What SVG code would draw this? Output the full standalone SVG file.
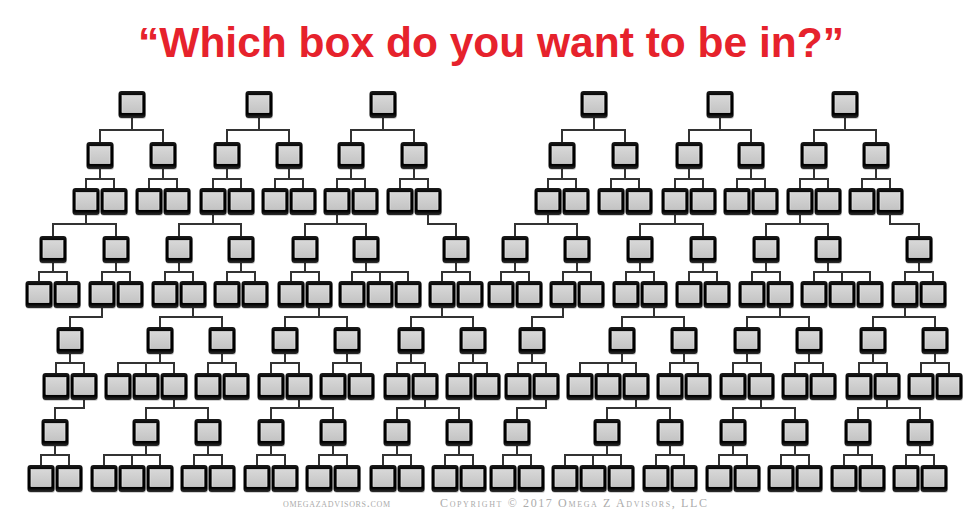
<svg xmlns="http://www.w3.org/2000/svg" xmlns:xlink="http://www.w3.org/1999/xlink" width="978" height="511" viewBox="0 0 978 511">
<style>
.t{font-family:"Liberation Sans",Arial,sans-serif;font-weight:bold;font-size:42.5px;fill:#e6222c}
.f{font-family:"Liberation Serif","Times New Roman",serif;font-size:12px;font-variant:small-caps;fill:#ababab;letter-spacing:1px}
.c path{fill:none;stroke:#333;stroke-width:2;stroke-linejoin:miter}
</style>
<defs>
<linearGradient id="fr" x1="0" y1="0" x2="0" y2="1">
<stop offset="0" stop-color="#1c1c1c"/><stop offset="0.2" stop-color="#000"/><stop offset="0.85" stop-color="#000"/><stop offset="1" stop-color="#2e2e2e"/>
</linearGradient>
<linearGradient id="in" x1="0" y1="0" x2="0" y2="1">
<stop offset="0" stop-color="#d8d8d8"/><stop offset="1" stop-color="#c4c4c4"/>
</linearGradient>
<g id="bx">
<rect x="0.5" y="1" width="27" height="27" rx="3" fill="#000" opacity="0.18"/>
<rect x="0" y="0" width="27" height="27" rx="3" fill="url(#fr)"/>
<rect x="3.5" y="4.5" width="20" height="17" fill="url(#in)" stroke="#e6e6e6" stroke-width="0.7"/>
</g>
</defs>
<rect width="978" height="511" fill="#fff"/>
<text class="t" x="491" y="57" text-anchor="middle">“Which box do you want to be in?”</text>

<g id="connectors" class="c">
<path d="M132 118V130M100 142V130H163V142M259 118V130M227 142V130H289V142M383 118V130M351 142V130H414V142M594 118V130M562 142V130H625V142M720 118V130M689 142V130H751V142M845 118V130M814 142V130H876V142"/>
<path d="M100 169V179M86 188V179H114V188M163 169V179M149 188V179H177V188M227 169V179M213 188V179H241V188M289 169V179M275 188V179H303V188M351 169V179M337 188V179H365V188M414 169V179M400 188V179H428V188M562 169V179M548 188V179H576V188M625 169V179M611 188V179H639V188M689 169V179M675 188V179H703V188M751 169V179M737 188V179H765V188M814 169V179M800 188V179H828V188M876 169V179M862 188V179H890V188"/>
<path d="M86 215V224M53 236V224H116V236M213 215V224M179 236V224H241V236M337 215V224M305 236V224H366V236M428 215V224H456V236M548 215V224M515 236V224H577V236M675 215V224M640 236V224H703V236M800 215V224M766 236V224H828V236M890 215V224H919V236"/>
<path d="M53 263V272M39 281V272H67V281M116 263V272M102 281V272H130V281M179 263V272M165 281V272H193V281M241 263V272M227 281V272H255V281M305 263V272M291 281V272H319V281M366 263V272M352 281V272H408V281M380 272V281M456 263V272M442 281V272H470V281M515 263V272M501 281V272H529V281M577 263V272M563 281V272H591V281M640 263V272M626 281V272H654V281M703 263V272M689 281V272H717V281M766 263V272M752 281V272H780V281M828 263V272M814 281V272H870V281M842 272V281M919 263V272M905 281V272H933V281"/>
<path d="M102 308V317H70V327M193 308V317M160 327V317H222V327M319 308V317M285 327V317H347V327M442 308V317M411 327V317H473V327M563 308V317H532V327M654 308V317M622 327V317H684V327M780 308V317M747 327V317H809V327M905 308V317M873 327V317H935V327"/>
<path d="M70 354V363M56 373V363H84V373M160 354V363M118 373V363H174V373M146 363V373M222 354V363M208 373V363H236V373M285 354V363M271 373V363H299V373M347 354V363M333 373V363H361V373M411 354V363M397 373V363H425V373M473 354V363M459 373V363H487V373M532 354V363M518 373V363H546V373M622 354V363M580 373V363H636V373M608 363V373M684 354V363M670 373V363H698V373M747 354V363M733 373V363H761V373M809 354V363M795 373V363H823V373M873 354V363M859 373V363H887V373M935 354V363M921 373V363H949V373"/>
<path d="M84 400V408H55V419M174 400V408M146 419V408H208V419M299 400V408M271 419V408H333V419M425 400V408M397 419V408H459V419M546 400V408H517V419M636 400V408M607 419V408H670V419M761 400V408M733 419V408H795V419M887 400V408M858 419V408H920V419"/>
<path d="M55 446V455M41 465V455H69V465M146 446V455M104 465V455H160V465M132 455V465M208 446V455M194 465V455H222V465M271 446V455M257 465V455H285V465M333 446V455M319 465V455H347V465M397 446V455M383 465V455H411V465M459 446V455M445 465V455H473V465M517 446V455M503 465V455H531V465M607 446V455M565 465V455H621V465M593 455V465M670 446V455M656 465V455H684V465M733 446V455M719 465V455H747V465M795 446V455M781 465V455H809V465M858 446V455M844 465V455H872V465M920 446V455M906 465V455H934V465"/>
</g>

<g id="nodes">
<g id="r1-1"><use href="#bx" x="118.5" y="91"/></g>
<g id="r1-2"><use href="#bx" x="245.5" y="91"/></g>
<g id="r1-3"><use href="#bx" x="369.5" y="91"/></g>
<g id="r1-4"><use href="#bx" x="580.5" y="91"/></g>
<g id="r1-5"><use href="#bx" x="706.5" y="91"/></g>
<g id="r1-6"><use href="#bx" x="831.5" y="91"/></g>

<g id="r2-1"><use href="#bx" x="86.5" y="142"/></g>
<g id="r2-2"><use href="#bx" x="149.5" y="142"/></g>
<g id="r2-3"><use href="#bx" x="213.5" y="142"/></g>
<g id="r2-4"><use href="#bx" x="275.5" y="142"/></g>
<g id="r2-5"><use href="#bx" x="337.5" y="142"/></g>
<g id="r2-6"><use href="#bx" x="400.5" y="142"/></g>
<g id="r2-7"><use href="#bx" x="548.5" y="142"/></g>
<g id="r2-8"><use href="#bx" x="611.5" y="142"/></g>
<g id="r2-9"><use href="#bx" x="675.5" y="142"/></g>
<g id="r2-10"><use href="#bx" x="737.5" y="142"/></g>
<g id="r2-11"><use href="#bx" x="800.5" y="142"/></g>
<g id="r2-12"><use href="#bx" x="862.5" y="142"/></g>

<g id="r3-1"><use href="#bx" x="72.5" y="188"/></g>
<g id="r3-2"><use href="#bx" x="100.5" y="188"/></g>
<g id="r3-3"><use href="#bx" x="135.5" y="188"/></g>
<g id="r3-4"><use href="#bx" x="163.5" y="188"/></g>
<g id="r3-5"><use href="#bx" x="199.5" y="188"/></g>
<g id="r3-6"><use href="#bx" x="227.5" y="188"/></g>
<g id="r3-7"><use href="#bx" x="261.5" y="188"/></g>
<g id="r3-8"><use href="#bx" x="289.5" y="188"/></g>
<g id="r3-9"><use href="#bx" x="323.5" y="188"/></g>
<g id="r3-10"><use href="#bx" x="351.5" y="188"/></g>
<g id="r3-11"><use href="#bx" x="386.5" y="188"/></g>
<g id="r3-12"><use href="#bx" x="414.5" y="188"/></g>
<g id="r3-13"><use href="#bx" x="534.5" y="188"/></g>
<g id="r3-14"><use href="#bx" x="562.5" y="188"/></g>
<g id="r3-15"><use href="#bx" x="597.5" y="188"/></g>
<g id="r3-16"><use href="#bx" x="625.5" y="188"/></g>
<g id="r3-17"><use href="#bx" x="661.5" y="188"/></g>
<g id="r3-18"><use href="#bx" x="689.5" y="188"/></g>
<g id="r3-19"><use href="#bx" x="723.5" y="188"/></g>
<g id="r3-20"><use href="#bx" x="751.5" y="188"/></g>
<g id="r3-21"><use href="#bx" x="786.5" y="188"/></g>
<g id="r3-22"><use href="#bx" x="814.5" y="188"/></g>
<g id="r3-23"><use href="#bx" x="848.5" y="188"/></g>
<g id="r3-24"><use href="#bx" x="876.5" y="188"/></g>

<g id="r4-1"><use href="#bx" x="39.5" y="236"/></g>
<g id="r4-2"><use href="#bx" x="102.5" y="236"/></g>
<g id="r4-3"><use href="#bx" x="165.5" y="236"/></g>
<g id="r4-4"><use href="#bx" x="227.5" y="236"/></g>
<g id="r4-5"><use href="#bx" x="291.5" y="236"/></g>
<g id="r4-6"><use href="#bx" x="352.5" y="236"/></g>
<g id="r4-7"><use href="#bx" x="442.5" y="236"/></g>
<g id="r4-8"><use href="#bx" x="501.5" y="236"/></g>
<g id="r4-9"><use href="#bx" x="563.5" y="236"/></g>
<g id="r4-10"><use href="#bx" x="626.5" y="236"/></g>
<g id="r4-11"><use href="#bx" x="689.5" y="236"/></g>
<g id="r4-12"><use href="#bx" x="752.5" y="236"/></g>
<g id="r4-13"><use href="#bx" x="814.5" y="236"/></g>
<g id="r4-14"><use href="#bx" x="905.5" y="236"/></g>

<g id="r5-1"><use href="#bx" x="25.5" y="281"/></g>
<g id="r5-2"><use href="#bx" x="53.5" y="281"/></g>
<g id="r5-3"><use href="#bx" x="88.5" y="281"/></g>
<g id="r5-4"><use href="#bx" x="116.5" y="281"/></g>
<g id="r5-5"><use href="#bx" x="151.5" y="281"/></g>
<g id="r5-6"><use href="#bx" x="179.5" y="281"/></g>
<g id="r5-7"><use href="#bx" x="213.5" y="281"/></g>
<g id="r5-8"><use href="#bx" x="241.5" y="281"/></g>
<g id="r5-9"><use href="#bx" x="277.5" y="281"/></g>
<g id="r5-10"><use href="#bx" x="305.5" y="281"/></g>
<g id="r5-11"><use href="#bx" x="338.5" y="281"/></g>
<g id="r5-12"><use href="#bx" x="366.5" y="281"/></g>
<g id="r5-13"><use href="#bx" x="394.5" y="281"/></g>
<g id="r5-14"><use href="#bx" x="428.5" y="281"/></g>
<g id="r5-15"><use href="#bx" x="456.5" y="281"/></g>
<g id="r5-16"><use href="#bx" x="487.5" y="281"/></g>
<g id="r5-17"><use href="#bx" x="515.5" y="281"/></g>
<g id="r5-18"><use href="#bx" x="549.5" y="281"/></g>
<g id="r5-19"><use href="#bx" x="577.5" y="281"/></g>
<g id="r5-20"><use href="#bx" x="612.5" y="281"/></g>
<g id="r5-21"><use href="#bx" x="640.5" y="281"/></g>
<g id="r5-22"><use href="#bx" x="675.5" y="281"/></g>
<g id="r5-23"><use href="#bx" x="703.5" y="281"/></g>
<g id="r5-24"><use href="#bx" x="738.5" y="281"/></g>
<g id="r5-25"><use href="#bx" x="766.5" y="281"/></g>
<g id="r5-26"><use href="#bx" x="800.5" y="281"/></g>
<g id="r5-27"><use href="#bx" x="828.5" y="281"/></g>
<g id="r5-28"><use href="#bx" x="856.5" y="281"/></g>
<g id="r5-29"><use href="#bx" x="891.5" y="281"/></g>
<g id="r5-30"><use href="#bx" x="919.5" y="281"/></g>

<g id="r6-1"><use href="#bx" x="56.5" y="327"/></g>
<g id="r6-2"><use href="#bx" x="146.5" y="327"/></g>
<g id="r6-3"><use href="#bx" x="208.5" y="327"/></g>
<g id="r6-4"><use href="#bx" x="271.5" y="327"/></g>
<g id="r6-5"><use href="#bx" x="333.5" y="327"/></g>
<g id="r6-6"><use href="#bx" x="397.5" y="327"/></g>
<g id="r6-7"><use href="#bx" x="459.5" y="327"/></g>
<g id="r6-8"><use href="#bx" x="518.5" y="327"/></g>
<g id="r6-9"><use href="#bx" x="608.5" y="327"/></g>
<g id="r6-10"><use href="#bx" x="670.5" y="327"/></g>
<g id="r6-11"><use href="#bx" x="733.5" y="327"/></g>
<g id="r6-12"><use href="#bx" x="795.5" y="327"/></g>
<g id="r6-13"><use href="#bx" x="859.5" y="327"/></g>
<g id="r6-14"><use href="#bx" x="921.5" y="327"/></g>

<g id="r7-1"><use href="#bx" x="42.5" y="373"/></g>
<g id="r7-2"><use href="#bx" x="70.5" y="373"/></g>
<g id="r7-3"><use href="#bx" x="104.5" y="373"/></g>
<g id="r7-4"><use href="#bx" x="132.5" y="373"/></g>
<g id="r7-5"><use href="#bx" x="160.5" y="373"/></g>
<g id="r7-6"><use href="#bx" x="194.5" y="373"/></g>
<g id="r7-7"><use href="#bx" x="222.5" y="373"/></g>
<g id="r7-8"><use href="#bx" x="257.5" y="373"/></g>
<g id="r7-9"><use href="#bx" x="285.5" y="373"/></g>
<g id="r7-10"><use href="#bx" x="319.5" y="373"/></g>
<g id="r7-11"><use href="#bx" x="347.5" y="373"/></g>
<g id="r7-12"><use href="#bx" x="383.5" y="373"/></g>
<g id="r7-13"><use href="#bx" x="411.5" y="373"/></g>
<g id="r7-14"><use href="#bx" x="445.5" y="373"/></g>
<g id="r7-15"><use href="#bx" x="473.5" y="373"/></g>
<g id="r7-16"><use href="#bx" x="504.5" y="373"/></g>
<g id="r7-17"><use href="#bx" x="532.5" y="373"/></g>
<g id="r7-18"><use href="#bx" x="566.5" y="373"/></g>
<g id="r7-19"><use href="#bx" x="594.5" y="373"/></g>
<g id="r7-20"><use href="#bx" x="622.5" y="373"/></g>
<g id="r7-21"><use href="#bx" x="656.5" y="373"/></g>
<g id="r7-22"><use href="#bx" x="684.5" y="373"/></g>
<g id="r7-23"><use href="#bx" x="719.5" y="373"/></g>
<g id="r7-24"><use href="#bx" x="747.5" y="373"/></g>
<g id="r7-25"><use href="#bx" x="781.5" y="373"/></g>
<g id="r7-26"><use href="#bx" x="809.5" y="373"/></g>
<g id="r7-27"><use href="#bx" x="845.5" y="373"/></g>
<g id="r7-28"><use href="#bx" x="873.5" y="373"/></g>
<g id="r7-29"><use href="#bx" x="907.5" y="373"/></g>
<g id="r7-30"><use href="#bx" x="935.5" y="373"/></g>

<g id="r8-1"><use href="#bx" x="41.5" y="419"/></g>
<g id="r8-2"><use href="#bx" x="132.5" y="419"/></g>
<g id="r8-3"><use href="#bx" x="194.5" y="419"/></g>
<g id="r8-4"><use href="#bx" x="257.5" y="419"/></g>
<g id="r8-5"><use href="#bx" x="319.5" y="419"/></g>
<g id="r8-6"><use href="#bx" x="383.5" y="419"/></g>
<g id="r8-7"><use href="#bx" x="445.5" y="419"/></g>
<g id="r8-8"><use href="#bx" x="503.5" y="419"/></g>
<g id="r8-9"><use href="#bx" x="593.5" y="419"/></g>
<g id="r8-10"><use href="#bx" x="656.5" y="419"/></g>
<g id="r8-11"><use href="#bx" x="719.5" y="419"/></g>
<g id="r8-12"><use href="#bx" x="781.5" y="419"/></g>
<g id="r8-13"><use href="#bx" x="844.5" y="419"/></g>
<g id="r8-14"><use href="#bx" x="906.5" y="419"/></g>

<g id="r9-1"><use href="#bx" x="27.5" y="465"/></g>
<g id="r9-2"><use href="#bx" x="55.5" y="465"/></g>
<g id="r9-3"><use href="#bx" x="90.5" y="465"/></g>
<g id="r9-4"><use href="#bx" x="118.5" y="465"/></g>
<g id="r9-5"><use href="#bx" x="146.5" y="465"/></g>
<g id="r9-6"><use href="#bx" x="180.5" y="465"/></g>
<g id="r9-7"><use href="#bx" x="208.5" y="465"/></g>
<g id="r9-8"><use href="#bx" x="243.5" y="465"/></g>
<g id="r9-9"><use href="#bx" x="271.5" y="465"/></g>
<g id="r9-10"><use href="#bx" x="305.5" y="465"/></g>
<g id="r9-11"><use href="#bx" x="333.5" y="465"/></g>
<g id="r9-12"><use href="#bx" x="369.5" y="465"/></g>
<g id="r9-13"><use href="#bx" x="397.5" y="465"/></g>
<g id="r9-14"><use href="#bx" x="431.5" y="465"/></g>
<g id="r9-15"><use href="#bx" x="459.5" y="465"/></g>
<g id="r9-16"><use href="#bx" x="489.5" y="465"/></g>
<g id="r9-17"><use href="#bx" x="517.5" y="465"/></g>
<g id="r9-18"><use href="#bx" x="551.5" y="465"/></g>
<g id="r9-19"><use href="#bx" x="579.5" y="465"/></g>
<g id="r9-20"><use href="#bx" x="607.5" y="465"/></g>
<g id="r9-21"><use href="#bx" x="642.5" y="465"/></g>
<g id="r9-22"><use href="#bx" x="670.5" y="465"/></g>
<g id="r9-23"><use href="#bx" x="705.5" y="465"/></g>
<g id="r9-24"><use href="#bx" x="733.5" y="465"/></g>
<g id="r9-25"><use href="#bx" x="767.5" y="465"/></g>
<g id="r9-26"><use href="#bx" x="795.5" y="465"/></g>
<g id="r9-27"><use href="#bx" x="830.5" y="465"/></g>
<g id="r9-28"><use href="#bx" x="858.5" y="465"/></g>
<g id="r9-29"><use href="#bx" x="892.5" y="465"/></g>
<g id="r9-30"><use href="#bx" x="920.5" y="465"/></g>
</g>

<text class="f" x="283" y="507" textLength="108" lengthAdjust="spacing">omegazadvisors.com</text>
<text class="f" x="440" y="507" textLength="268" lengthAdjust="spacing">Copyright © 2017 Omega Z Advisors, LLC</text>
</svg>
